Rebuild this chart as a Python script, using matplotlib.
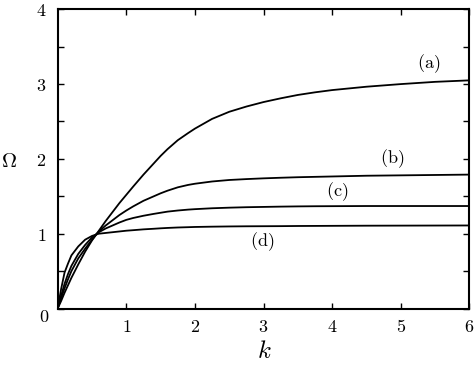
import matplotlib
matplotlib.use("Agg")
import matplotlib.pyplot as plt
from matplotlib.ticker import MultipleLocator, FixedLocator

plt.rcParams['mathtext.fontset'] = 'cm'
plt.rcParams['font.family'] = 'serif'
plt.rcParams['font.serif'] = ['DejaVu Serif']

k = [0, 0.05, 0.1, 0.15, 0.2, 0.3, 0.4, 0.5, 0.6, 0.7, 0.8, 0.9, 1.0, 1.1, 1.25,
     1.4, 1.5, 1.6, 1.75, 1.9, 2.0, 2.25, 2.5, 2.75, 3.0, 3.25, 3.5, 3.75, 4.0,
     4.5, 5.0, 5.5, 6.0]
omega_a = [0, 0.10, 0.21, 0.31, 0.41, 0.59, 0.76, 0.91, 1.04, 1.17, 1.29, 1.41,
           1.52, 1.63, 1.79, 1.94, 2.04, 2.13, 2.25, 2.345, 2.405, 2.535, 2.63, 2.70,
           2.76, 2.81, 2.855, 2.89, 2.92, 2.965, 3.00, 3.03, 3.05]
omega_b = [0, 0.14, 0.27, 0.39, 0.50, 0.67, 0.80, 0.92, 1.03, 1.11, 1.18, 1.25,
           1.31, 1.365, 1.44, 1.50, 1.54, 1.575, 1.62, 1.652, 1.668, 1.698, 1.718,
           1.73, 1.74, 1.748, 1.755, 1.76, 1.765, 1.775, 1.78, 1.785, 1.79]
omega_c = [0, 0.17, 0.33, 0.46, 0.57, 0.73, 0.85, 0.95, 1.02, 1.07, 1.11, 1.15,
           1.185, 1.21, 1.24, 1.265, 1.28, 1.295, 1.31, 1.322, 1.328, 1.34, 1.348,
           1.354, 1.358, 1.362, 1.365, 1.367, 1.368, 1.37, 1.37, 1.37, 1.37]
omega_d = [0, 0.26, 0.48, 0.60, 0.71, 0.83, 0.92, 0.97, 1.00, 1.01, 1.02, 1.03,
           1.04, 1.047, 1.058, 1.066, 1.072, 1.077, 1.083, 1.087, 1.09, 1.094,
           1.097, 1.099, 1.10, 1.101, 1.103, 1.104, 1.105, 1.107, 1.108, 1.109, 1.11]
series = [omega_a, omega_b, omega_c, omega_d]
curve_labels = ['(a)', '(b)', '(c)', '(d)']
label_pos = [(5.4, 3.27), (4.87, 2.01), (4.07, 1.56), (2.98, 0.90)]
xticks = [1, 2, 3, 4, 5, 6]
yticks = [1, 2, 3, 4]

fig = plt.figure(figsize=(4.74, 3.67), dpi=100)
ax = fig.add_axes([0.1217, 0.1594, 0.8688, 0.8153])

for y in series:
    ax.plot(k, y, color='black', lw=1.3)

for lab, (x, y) in zip(curve_labels, label_pos):
    ax.text(x, y, r'$\mathrm{' + lab + '}$', fontsize=13, ha='center', va='center')

ax.set_xlim(0, 6)
ax.set_ylim(0, 4)
ax.xaxis.set_major_locator(FixedLocator(xticks))
ax.yaxis.set_major_locator(FixedLocator(yticks))
ax.yaxis.set_minor_locator(MultipleLocator(0.5))
ax.set_xticklabels([r'$%d$' % v for v in xticks])
ax.set_yticklabels([r'$%d$' % v for v in yticks])
ax.tick_params(which='both', direction='in', top=True, right=True, length=4, width=1.0,
               labelsize=13)
ax.tick_params(axis='x', pad=7)
ax.tick_params(axis='y', pad=8)
for s in ax.spines.values():
    s.set_linewidth(1.5)

ax.annotate(r'$0$', xy=(0, 0), xycoords='axes fraction', xytext=(-9.6, -6),
            textcoords='offset points', ha='center', va='center', fontsize=13)
ax.text(0.501, -0.144, r'$k$', transform=ax.transAxes, fontsize=18,
        ha='center', va='center')
ax.text(-0.119, 0.49, r'$\Omega$', transform=ax.transAxes, fontsize=15,
        ha='center', va='center')

fig.savefig('out.png', dpi=100)
